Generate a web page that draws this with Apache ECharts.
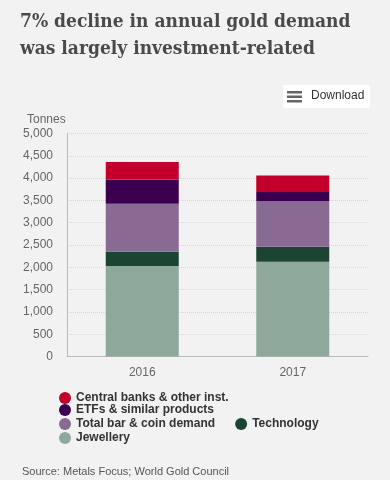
<!DOCTYPE html>
<html><head><meta charset="utf-8">
<script src="https://cdn.jsdelivr.net/npm/echarts@6/dist/echarts.min.js"></script>
<style>html,body{margin:0;padding:0;background:#f2f2f2;}#c{width:390px;height:480px;}</style>
</head><body><div id="c"></div>
<script>
const categories = ['2016', '2017'];
const jewellery = [2030, 2125];
const technology = [320, 333];
const barCoin = [1075, 1030];
const etfs = [545, 200];
const centralBanks = [390, 372];
const yTicks = [0, 500, 1000, 1500, 2000, 2500, 3000, 3500, 4000, 4500, 5000];

const chart = echarts.init(document.getElementById('c'));
const legendText = {fontFamily: 'Arial, Liberation Sans, sans-serif', fontSize: 12, fontWeight: 'bold', color: '#333'};
const legendBase = {orient: 'horizontal', icon: 'circle', itemWidth: 12, itemHeight: 12, itemGap: 20, textStyle: legendText, selectedMode: false, padding: 0};
chart.setOption({
  backgroundColor: '#f2f2f2',
  animation: false,
  title: [{
    text: '7% decline in annual gold demand\nwas largely investment-related',
    left: 15, top: 4,
    textStyle: {fontFamily: "'DejaVu Serif Condensed', 'DejaVu Serif', serif", fontSize: 19, fontWeight: 'bold', color: '#4a4a4a', lineHeight: 27}
  }, {
    text: 'Source: Metals Focus; World Gold Council',
    left: 17, top: 461,
    textStyle: {fontFamily: 'Arial, Liberation Sans, sans-serif', fontSize: 11, fontWeight: 'normal', color: '#555'}
  }],
  graphic: [
    {type: 'rect', shape: {x: 283, y: 85, width: 87, height: 23, r: 2}, style: {fill: '#ffffff'}},
    {type: 'rect', shape: {x: 287, y: 91, width: 15, height: 2.5}, style: {fill: '#666'}},
    {type: 'rect', shape: {x: 287, y: 95.5, width: 15, height: 2.5}, style: {fill: '#666'}},
    {type: 'rect', shape: {x: 287, y: 100, width: 15, height: 2.5}, style: {fill: '#666'}},
    {type: 'text', left: 311, top: 90, style: {text: 'Download', font: '12px Arial, Liberation Sans, sans-serif', fill: '#333'}}
  ],
  legend: [
    Object.assign({}, legendBase, {left: 59, top: 392, data: ['Central banks & other inst.']}),
    Object.assign({}, legendBase, {left: 59, top: 404, data: ['ETFs & similar products']}),
    Object.assign({}, legendBase, {left: 59, top: 418, data: ['Total bar & coin demand', 'Technology']}),
    Object.assign({}, legendBase, {left: 59, top: 432, data: ['Jewellery']})
  ],
  grid: {left: 67, right: 22, top: 133.5, bottom: 123.5, containLabel: false},
  xAxis: {
    type: 'category', data: categories,
    axisLine: {lineStyle: {color: '#bbb', width: 1}},
    axisTick: {show: false},
    axisLabel: {color: '#666', fontSize: 12, fontFamily: 'Arial, Liberation Sans, sans-serif', margin: 10}
  },
  yAxis: {
    type: 'value', min: 0, max: 5000, interval: 500,
    name: 'Tonnes', nameLocation: 'end', nameGap: 8,
    nameTextStyle: {color: '#666', fontSize: 12, fontFamily: 'Arial, Liberation Sans, sans-serif', align: 'left', padding: [0, 0, 0, -40]},
    axisLine: {show: true, lineStyle: {color: '#bbb', width: 1}},
    axisTick: {show: false},
    splitLine: {lineStyle: {color: '#d6d6d6', type: 'dotted', width: 1}},
    axisLabel: {color: '#666', fontSize: 12, fontFamily: 'Arial, Liberation Sans, sans-serif', margin: 14,
      formatter: v => yTicks.indexOf(v) >= 0 ? v.toLocaleString('en-US') : ''}
  },
  series: [
    {name: 'Jewellery', type: 'bar', stack: 'd', data: jewellery, barWidth: 73, itemStyle: {color: '#8fa89c'}},
    {name: 'Technology', type: 'bar', stack: 'd', data: technology, itemStyle: {color: '#1b4532'}},
    {name: 'Total bar & coin demand', type: 'bar', stack: 'd', data: barCoin, itemStyle: {color: '#886a93'}},
    {name: 'ETFs & similar products', type: 'bar', stack: 'd', data: etfs, itemStyle: {color: '#3a004f'}},
    {name: 'Central banks & other inst.', type: 'bar', stack: 'd', data: centralBanks, itemStyle: {color: '#c2002b'}}
  ]
});
</script></body></html>
